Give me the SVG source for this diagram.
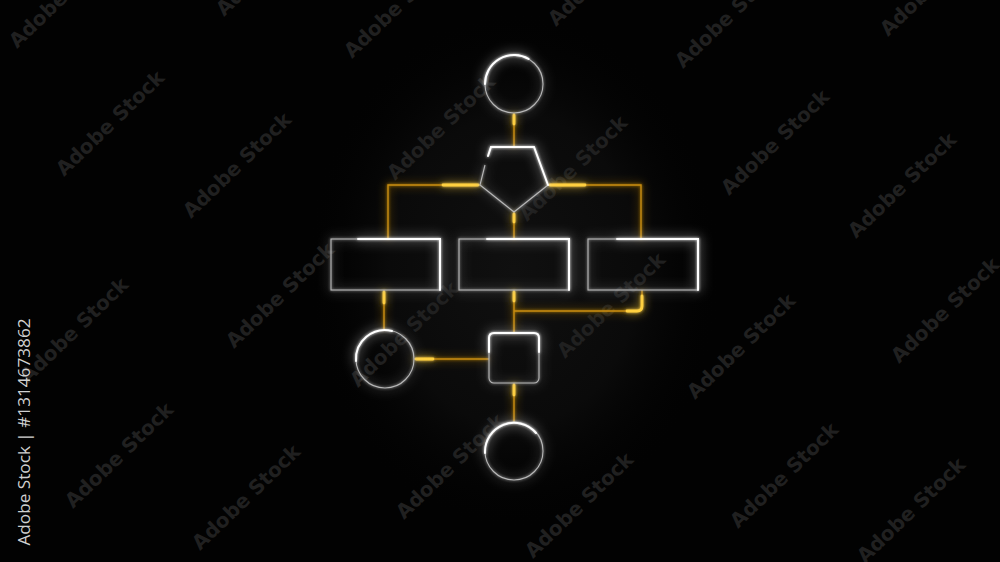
<svg xmlns="http://www.w3.org/2000/svg" width="1000" height="562" viewBox="0 0 1000 562">
<style>
.wm{font-family:"DejaVu Sans",sans-serif;font-weight:bold;font-size:20px;fill:#202020;text-anchor:middle;dominant-baseline:central}
.id{font-family:"Open Sans","DejaVu Sans",sans-serif;font-size:17px;fill:#d0d0d0;text-anchor:middle;dominant-baseline:central}
.wthin{fill:none;stroke:#b8b8b8;stroke-width:1.1}
.wbright{fill:none;stroke:#ffffff;stroke-width:2;stroke-linecap:round}
.ythin{fill:none;stroke:#c98d12;stroke-width:1.4}
.ybright{fill:none;stroke:#ffd040;stroke-width:2.8;stroke-linecap:round}
</style>
<defs>
<filter id="glowW" filterUnits="userSpaceOnUse" x="0" y="0" width="1000" height="562">
<feGaussianBlur in="SourceGraphic" stdDeviation="1.5" result="b1"/>
<feGaussianBlur in="SourceGraphic" stdDeviation="6" result="b2"/>
<feMerge><feMergeNode in="b2"/><feMergeNode in="b1"/><feMergeNode in="SourceGraphic"/></feMerge>
</filter>
<filter id="glowY" filterUnits="userSpaceOnUse" x="0" y="0" width="1000" height="562">
<feGaussianBlur in="SourceGraphic" stdDeviation="1.5" result="b1"/>
<feGaussianBlur in="SourceGraphic" stdDeviation="5" result="b2"/>
<feMerge><feMergeNode in="b2"/><feMergeNode in="b1"/><feMergeNode in="SourceGraphic"/></feMerge>
</filter>
<radialGradient id="halo" cx="514" cy="270" r="260" gradientUnits="userSpaceOnUse" gradientTransform="translate(514 270) scale(0.8 1) translate(-514 -270)">
<stop offset="0" stop-color="#101010"/>
<stop offset="0.6" stop-color="#0a0a0a"/>
<stop offset="1" stop-color="#020202" stop-opacity="0"/>
</radialGradient>
</defs>
<rect width="1000" height="562" fill="#020202"/>
<rect width="1000" height="562" fill="url(#halo)"/>

<g id="watermark">
<text class="wm" transform="translate(63,-5) rotate(-44)">Adobe Stock</text>
<text class="wm" transform="translate(110,123) rotate(-44)">Adobe Stock</text>
<text class="wm" transform="translate(237,165) rotate(-44)">Adobe Stock</text>
<text class="wm" transform="translate(270,-37) rotate(-44)">Adobe Stock</text>
<text class="wm" transform="translate(398,5) rotate(-44)">Adobe Stock</text>
<text class="wm" transform="translate(441,127) rotate(-44)">Adobe Stock</text>
<text class="wm" transform="translate(573,168) rotate(-44)">Adobe Stock</text>
<text class="wm" transform="translate(602,-27) rotate(-44)">Adobe Stock</text>
<text class="wm" transform="translate(729,15) rotate(-44)">Adobe Stock</text>
<text class="wm" transform="translate(775,142) rotate(-44)">Adobe Stock</text>
<text class="wm" transform="translate(902,185) rotate(-44)">Adobe Stock</text>
<text class="wm" transform="translate(934,-17) rotate(-44)">Adobe Stock</text>
<text class="wm" transform="translate(74,330) rotate(-44)">Adobe Stock</text>
<text class="wm" transform="translate(280,295) rotate(-44)">Adobe Stock</text>
<text class="wm" transform="translate(404,334) rotate(-44)">Adobe Stock</text>
<text class="wm" transform="translate(611,305) rotate(-44)">Adobe Stock</text>
<text class="wm" transform="translate(741,346) rotate(-44)">Adobe Stock</text>
<text class="wm" transform="translate(945,310) rotate(-44)">Adobe Stock</text>
<text class="wm" transform="translate(119,455) rotate(-44)">Adobe Stock</text>
<text class="wm" transform="translate(246,497) rotate(-44)">Adobe Stock</text>
<text class="wm" transform="translate(450,466) rotate(-44)">Adobe Stock</text>
<text class="wm" transform="translate(579,505) rotate(-44)">Adobe Stock</text>
<text class="wm" transform="translate(784,475) rotate(-44)">Adobe Stock</text>
<text class="wm" transform="translate(911,510) rotate(-44)">Adobe Stock</text>
<text class="id" transform="translate(23,432) rotate(-90)" textLength="227" lengthAdjust="spacingAndGlyphs">Adobe Stock | #1314673862</text>
</g>

<g id="connectors" filter="url(#glowY)">
<path class="ythin" d="M514,113 V147"/>
<path class="ybright" d="M514,115 V124"/>
<path class="ythin" d="M480,185 H388 V239"/>
<path class="ybright" d="M443,185 H478"/>
<path class="ythin" d="M548,185 H641 V239"/>
<path class="ybright" d="M550,185 H585"/>
<path class="ythin" d="M514,212 V239"/>
<path class="ybright" d="M514,214 V222"/>
<path class="ythin" d="M384,290 V330"/>
<path class="ybright" d="M384,292 V303"/>
<path class="ythin" d="M514,290 V333"/>
<path class="ybright" d="M514,292 V301"/>
<path class="ythin" d="M642,290 V306 Q642,311 637,311 H514"/>
<path class="ybright" d="M642,296 V306 Q642,311 637,311 H627"/>
<path class="ythin" d="M414,359 H489"/>
<path class="ybright" d="M416,359 H433"/>
<path class="ythin" d="M514,383 V422"/>
<path class="ybright" d="M514,385 V395"/>
</g>

<g id="start" filter="url(#glowW)">
<circle class="wthin" cx="514" cy="84" r="29"/>
<path class="wbright" d="M485,84 A29,29 0 0 1 528.5,58.9"/>
</g>

<g id="decision" filter="url(#glowW)">
<path class="wthin" d="M485,165 L480,185 L514,212 L548,185"/>
<path class="wbright" d="M488,156 L491,147 H534 L548,185"/>
</g>

<g id="process1" filter="url(#glowW)">
<rect class="wthin" x="331" y="239" width="109" height="51"/>
<path class="wbright" d="M358,239 H440 V290"/>
</g>

<g id="process2" filter="url(#glowW)">
<rect class="wthin" x="459" y="239" width="110" height="51"/>
<path class="wbright" d="M487,239 H569 V290"/>
</g>

<g id="process3" filter="url(#glowW)">
<rect class="wthin" x="588" y="239" width="110" height="51"/>
<path class="wbright" d="M617,239 H698 V290"/>
</g>

<g id="connector-circle" filter="url(#glowW)">
<circle class="wthin" cx="385" cy="359" r="29"/>
<path class="wbright" d="M356,361 A29,29 0 0 1 392,331"/>
</g>

<g id="merge" filter="url(#glowW)">
<rect class="wthin" x="489" y="333" width="50" height="50" rx="5"/>
<path class="wbright" d="M489,352 V338 Q489,333 494,333 H534 Q539,333 539,338 V352"/>
</g>

<g id="end" filter="url(#glowW)">
<circle class="wthin" cx="514" cy="451" r="29"/>
<path class="wbright" d="M485,453 A29,29 0 0 1 536,433"/>
</g>
</svg>
